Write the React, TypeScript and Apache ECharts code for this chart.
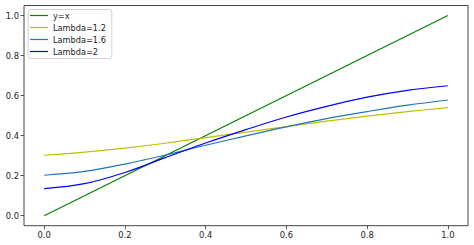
import React, { useEffect, useRef } from "react";
import * as echarts from "echarts";

const xValues = [0, 0.1, 0.2, 0.3, 0.4, 0.5, 0.6, 0.7, 0.8, 0.9, 1.0];
const identityX = [0, 1];
const identityY = [0, 1];
const lambda12 = [0.302, 0.318, 0.338, 0.362, 0.39, 0.417, 0.445, 0.472, 0.497, 0.52, 0.54];
const lambda16 = [0.202, 0.221, 0.258, 0.303, 0.352, 0.399, 0.444, 0.485, 0.52, 0.552, 0.578];
const lambda2 = [0.135, 0.16, 0.216, 0.29, 0.363, 0.43, 0.493, 0.546, 0.592, 0.626, 0.649];
const tickValues = [0, 0.2, 0.4, 0.6, 0.8, 1.0];
const seriesNames = ["y=x", "Lambda=1.2", "Lambda=1.6", "Lambda=2"];
const seriesColors = ["#008000", "#bfbf00", "#1f77b4", "#0000ff"];

const pair = (xs: number[], ys: number[]) => xs.map((x, i) => [x, ys[i]]);

export default function App() {
  const ref = useRef<HTMLDivElement>(null);
  useEffect(() => {
    if (!ref.current) return;
    const chart = echarts.init(ref.current, undefined, { renderer: "svg" });
    const font = "DejaVu Sans";
    const axisCommon = {
      type: "value" as const,
      min: -0.05,
      max: 1.05,
      splitLine: { show: false },
      axisLine: { show: false, onZero: false },
      axisTick: {
        show: true,
        inside: false,
        length: 3.5,
        customValues: tickValues,
        lineStyle: { color: "#444", width: 0.9 },
      },
      axisLabel: {
        customValues: tickValues,
        formatter: (v: number) => v.toFixed(1),
        fontFamily: font,
        fontSize: 8.4,
        color: "#222",
        margin: 5,
      },
    };
    const dataSets = [pair(identityX, identityY), pair(xValues, lambda12), pair(xValues, lambda16), pair(xValues, lambda2)];
    chart.setOption({
      animation: false,
      backgroundColor: "#fff",
      grid: {
        left: 24,
        right: 6,
        top: 5.5,
        bottom: 19.3,
        show: true,
        borderColor: "#444",
        borderWidth: 1,
        backgroundColor: "transparent",
        containLabel: false,
        outerBoundsMode: "none",
      },
      xAxis: { ...axisCommon },
      yAxis: { ...axisCommon },
      legend: {
        orient: "vertical",
        left: 28,
        top: 9.5,
        padding: [0, 6, 1, 2],
        itemGap: 0,
        itemWidth: 18,
        itemHeight: 12,
        itemTextGap: 5,
        symbolKeepAspect: true,
        icon: "path://M0,5.4H18V6.6H0Z",
        backgroundColor: "rgba(255,255,255,0.85)",
        borderColor: "#d0d0d0",
        borderWidth: 1,
        borderRadius: 3,
        textStyle: { fontFamily: font, fontSize: 8.2, color: "#222", lineHeight: 12 },
        data: seriesNames,
      },
      series: seriesNames.map((name, i) => ({
        name,
        type: "line",
        data: dataSets[i],
        smooth: i === 0 ? false : 0.35,
        showSymbol: false,
        symbol: "none",
        color: seriesColors[i],
        lineStyle: { color: seriesColors[i], width: 1.2 },
      })),
    });
    return () => chart.dispose();
  }, []);
  return (
    <div
      ref={ref}
      style={{ position: "fixed", left: 0, top: 0, width: 474, height: 245 }}
    />
  );
}
